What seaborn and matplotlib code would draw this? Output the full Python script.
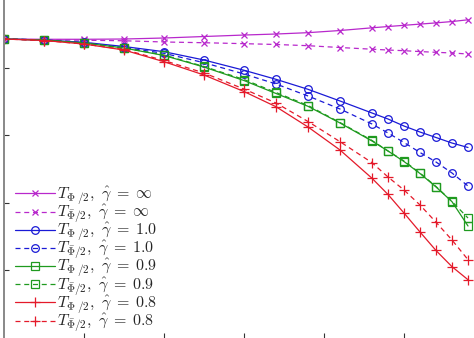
import matplotlib
matplotlib.use("Agg")
import matplotlib.pyplot as plt
import numpy as np
import pandas as pd
import seaborn as sns

# sample positions shared by every curve
x_vals = [0.0, 0.5, 1.0, 1.5, 2.0, 2.5, 3.0, 3.4, 3.8, 4.2, 4.6, 4.8, 5.0, 5.2, 5.4, 5.6, 5.8]

# T_{Phi/2} (solid) and T_{barPhi/2} (dashed) for each gamma-hat
inf_phi = [4.422, 4.418, 4.418, 4.422, 4.437, 4.459, 4.481, 4.496, 4.516, 4.548, 4.588, 4.607, 4.625, 4.643, 4.661, 4.681, 4.707]
inf_bar = [4.422, 4.410, 4.404, 4.396, 4.378, 4.367, 4.353, 4.341, 4.323, 4.296, 4.271, 4.259, 4.249, 4.236, 4.225, 4.215, 4.200]
g10_phi = [4.422, 4.407, 4.373, 4.311, 4.234, 4.111, 3.959, 3.825, 3.677, 3.504, 3.326, 3.237, 3.133, 3.044, 2.963, 2.881, 2.815]
g10_bar = [4.422, 4.407, 4.370, 4.296, 4.210, 4.071, 3.904, 3.756, 3.578, 3.385, 3.163, 3.030, 2.889, 2.741, 2.600, 2.437, 2.244]
g09_phi = [4.422, 4.407, 4.363, 4.289, 4.178, 4.007, 3.807, 3.615, 3.425, 3.178, 2.911, 2.763, 2.607, 2.430, 2.230, 2.012, 1.652]
g09_bar = [4.422, 4.407, 4.363, 4.289, 4.185, 4.015, 3.822, 3.630, 3.437, 3.185, 2.919, 2.763, 2.615, 2.437, 2.237, 2.015, 1.770]
g08_phi = [4.422, 4.400, 4.348, 4.259, 4.086, 3.889, 3.644, 3.419, 3.119, 2.778, 2.359, 2.119, 1.844, 1.563, 1.289, 1.049, 0.856]
g08_bar = [4.422, 4.400, 4.348, 4.267, 4.104, 3.919, 3.681, 3.474, 3.200, 2.901, 2.590, 2.378, 2.185, 1.963, 1.708, 1.444, 1.153]

gammas = [r"\infty", "1.0", "0.9", "0.8"]
colors = ["#b828cc", "#1a1ad6", "#1f9a1f", "#e41a2a"]
markers = ["x", "o", "s", "+"]
msizes = [4.5, 5.5, 5.5, 7.0]
series = [(inf_phi, inf_bar), (g10_phi, g10_bar), (g09_phi, g09_bar), (g08_phi, g08_bar)]

sns.set_style("ticks")
plt.rcParams["mathtext.fontset"] = "cm"
plt.rcParams["font.family"] = ["DejaVu Sans"]

fig = plt.figure(figsize=(4.74, 3.38), dpi=100)
W, H = 474, 338
left_px, right_px, top_px, bottom_px = 4, 480, -3, 340
ax = fig.add_axes([left_px / W, (H - bottom_px) / H,
                   (right_px - left_px) / W, (bottom_px - top_px) / H])

for (phi, bar), g, c, m, ms in zip(series, gammas, colors, markers, msizes):
    df_phi = pd.DataFrame({"x": x_vals, "y": phi})
    df_bar = pd.DataFrame({"x": x_vals, "y": bar})
    sns.lineplot(data=df_phi, x="x", y="y", ax=ax, color=c, lw=0.9,
                 marker=m, markersize=ms, markerfacecolor="none",
                 markeredgecolor=c, markeredgewidth=0.9,
                 label=r"$T_{\Phi\;/2},\ \hat{\gamma}\;=\;%s$" % g)
    sns.lineplot(data=df_bar, x="x", y="y", ax=ax, color=c, lw=0.9,
                 linestyle=(0, (4, 3)),
                 marker=m, markersize=ms, markerfacecolor="none",
                 markeredgecolor=c, markeredgewidth=0.9,
                 label=r"$T_{\bar{\Phi}/2},\ \hat{\gamma}\;=\;%s$" % g)

ax.set_xlim(0, (right_px - left_px) / 80)
ax.set_ylim((337.5 - bottom_px) / 67.5, (337.5 - top_px) / 67.5)
ax.set_xticks([1, 2, 3, 4, 5])
ax.set_yticks([1, 2, 3, 4])
ax.set_xticklabels([])
ax.set_yticklabels([])
ax.set_xlabel("")
ax.set_ylabel("")
ax.tick_params(axis="x", direction="in", length=5, width=0.8, color="#333333")
ax.tick_params(axis="y", direction="in", length=3.5, width=0.8, color="#333333")
for s in ["top", "right"]:
    ax.spines[s].set_visible(False)
ax.spines["left"].set_color("#888888")
ax.spines["left"].set_linewidth(1.4)
ax.spines["bottom"].set_color("#888888")

leg = ax.legend(loc="lower left", bbox_to_anchor=(15 / W, (H - 334) / H),
                bbox_transform=fig.transFigure, frameon=False, fontsize=11.5,
                handlelength=2.5, handletextpad=0.15, labelspacing=-0.26,
                borderpad=0.0, borderaxespad=0.0, numpoints=1)

fig.savefig("out.png", dpi=100)
